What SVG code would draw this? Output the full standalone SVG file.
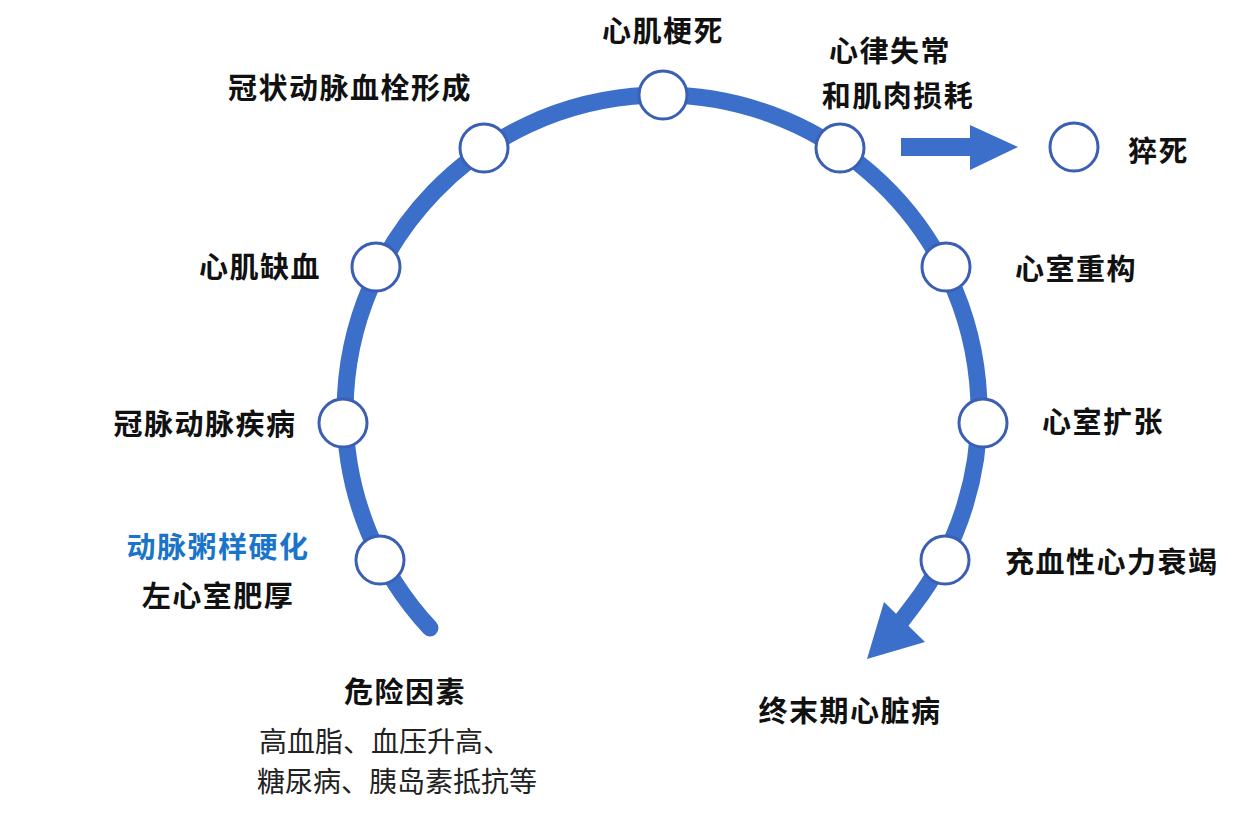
<svg xmlns="http://www.w3.org/2000/svg" width="1258" height="820" viewBox="0 0 1258 820">
<style>
.b{font-family:"Liberation Sans","Noto Sans CJK SC",sans-serif;font-size:29px;letter-spacing:1.5px;font-weight:bold;fill:#111}
.n{font-family:"Liberation Sans","Noto Sans CJK SC",sans-serif;font-size:28px;fill:#222}
.c{fill:#fff;stroke:#3a5fb5;stroke-width:3}
</style>
<rect width="1258" height="820" fill="#fff"/>
<g id="connectors" fill="#3b6fc9">
<path d="M430,628 A317,317 0 1 1 912,607 L890,636" fill="none" stroke="#3b6fc9" stroke-width="17" stroke-linecap="round"/>
<polygon points="867,659 884,602 925,642"/>
<polygon points="901,138 970,138 970,125 1018,147 970,170 970,156 901,156"/>
</g>
<g id="n1"><circle class="c" cx="663" cy="95" r="24"/><text class="b" x="663" y="42" text-anchor="middle">心肌梗死</text></g>
<g id="n2"><circle class="c" cx="484" cy="148" r="24"/><text class="b" x="350" y="99" text-anchor="middle">冠状动脉血栓形成</text></g>
<g id="n3"><circle class="c" cx="376" cy="267" r="24"/><text class="b" x="260" y="278" text-anchor="middle">心肌缺血</text></g>
<g id="n4"><circle class="c" cx="343" cy="423" r="24"/><text class="b" x="205" y="435" text-anchor="middle">冠脉动脉疾病</text></g>
<g id="n5"><circle class="c" cx="380" cy="560" r="24"/><text class="b" x="218" y="558" text-anchor="middle" style="fill:#1a74c9">动脉粥样硬化</text><text class="b" x="218" y="607" text-anchor="middle">左心室肥厚</text></g>
<g id="n6"><circle class="c" cx="840" cy="148" r="24"/><text class="b" x="890" y="62" text-anchor="middle">心律失常</text><text class="b" x="898" y="107" text-anchor="middle">和肌肉损耗</text></g>
<g id="n7"><circle class="c" cx="1074" cy="147" r="24"/><text class="b" x="1128" y="162">猝死</text></g>
<g id="n8"><circle class="c" cx="946" cy="267" r="24"/><text class="b" x="1015" y="280">心室重构</text></g>
<g id="n9"><circle class="c" cx="983" cy="423" r="24"/><text class="b" x="1042" y="433">心室扩张</text></g>
<g id="n10"><circle class="c" cx="945" cy="560" r="24"/><text class="b" x="1005" y="573">充血性心力衰竭</text></g>
<g id="n11"><text class="b" x="850" y="722" text-anchor="middle">终末期心脏病</text></g>
<g id="n12"><text class="b" x="405" y="703" text-anchor="middle">危险因素</text><text class="n" x="385" y="752" text-anchor="middle">高血脂、血压升高、</text><text class="n" x="397" y="792" text-anchor="middle">糖尿病、胰岛素抵抗等</text></g>
</svg>
